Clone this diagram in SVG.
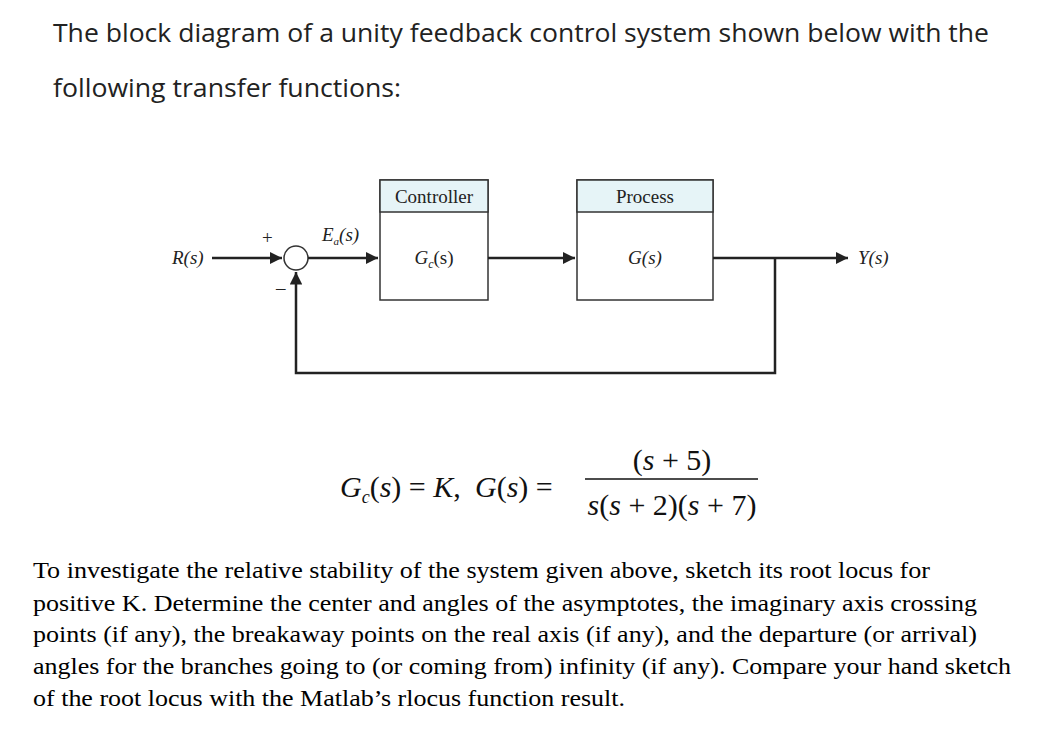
<svg xmlns="http://www.w3.org/2000/svg" width="1040" height="736" viewBox="0 0 1040 736">
<style>
.h{font-family:"Open Sans","Liberation Sans",sans-serif;font-size:25px;fill:#222}
.t{font-family:"Liberation Serif",serif;font-size:24px;fill:#000}
.b{font-family:"Liberation Serif",serif;font-size:19px;fill:#222}
.m{font-family:"Liberation Serif",serif;font-size:30px;fill:#111}
.ln{stroke:#222;stroke-width:2.5;fill:none}
.box{fill:#fff;stroke:#333;stroke-width:1.5}
.hd{fill:#e6f4f7;stroke:#333;stroke-width:1.5}
</style>
<defs><marker id="a" viewBox="0 0 10 10" refX="10" refY="5" markerWidth="5" markerHeight="5" orient="auto"><path d="M0,0L10,5L0,10z" fill="#222"/></marker></defs>
<rect width="1040" height="736" fill="#fff"/>
<text class="h" x="53" y="42" textLength="936" lengthAdjust="spacingAndGlyphs">The block diagram of a unity feedback control system shown below with the</text>
<text class="h" x="53" y="97" textLength="348" lengthAdjust="spacingAndGlyphs">following transfer functions:</text>
<g id="controller"><rect class="box" x="380" y="180" width="108" height="120"/><rect class="hd" x="380" y="180" width="108" height="32"/><text class="b" x="434" y="203" text-anchor="middle">Controller</text><text class="b" x="434" y="264" text-anchor="middle" font-style="italic">G<tspan font-size="12" dy="4">c</tspan><tspan dy="-4" font-style="normal">(s)</tspan></text></g>
<g id="process"><rect class="box" x="577" y="180" width="136" height="120"/><rect class="hd" x="577" y="180" width="136" height="32"/><text class="b" x="645" y="203" text-anchor="middle">Process</text><text class="b" x="645" y="264" text-anchor="middle" font-style="italic">G(s)</text></g>
<g id="sum"><circle cx="296" cy="258" r="12" fill="#fff" stroke="#333" stroke-width="1.5"/><text class="b" x="262" y="244" font-size="16">+</text><text class="b" x="276" y="294" font-size="14">–</text></g>
<g id="labels" font-style="italic"><text class="b" x="172" y="264" font-size="15" fill="#4a7a8a">R(s)</text><text class="b" x="322" y="241" font-size="16">E<tspan font-size="11" dy="4">a</tspan><tspan dy="-4">(s)</tspan></text><text class="b" x="858" y="264" font-size="14" fill="#555">Y(s)</text></g>
<g id="connectors">
<path class="ln" d="M212,258H282" marker-end="url(#a)"/>
<path class="ln" d="M308,258H378" marker-end="url(#a)"/>
<path class="ln" d="M488,258H575" marker-end="url(#a)"/>
<path class="ln" d="M713,258H848" marker-end="url(#a)"/>
<path class="ln" d="M775,258V373H296V272" marker-end="url(#a)"/>
</g>
<g id="formula">
<text class="m" x="340" y="497" font-style="italic">G<tspan font-size="18" dy="6">c</tspan><tspan dy="-6" font-style="normal">(</tspan>s<tspan font-style="normal">) = </tspan>K<tspan font-style="normal">,</tspan></text>
<text class="m" x="475" y="497"><tspan font-style="italic">G</tspan>(<tspan font-style="italic">s</tspan>) =</text>
<text class="m" x="672" y="470" text-anchor="middle">(<tspan font-style="italic">s</tspan> + 5)</text>
<line x1="585" y1="479" x2="758" y2="479" stroke="#111" stroke-width="1.5"/>
<text class="m" x="672" y="515" text-anchor="middle"><tspan font-style="italic">s</tspan>(<tspan font-style="italic">s</tspan> + 2)(<tspan font-style="italic">s</tspan> + 7)</text>
</g>
<text class="t" x="33" y="578" textLength="897" lengthAdjust="spacingAndGlyphs">To investigate the relative stability of the system given above, sketch its root locus for</text>
<text class="t" x="33" y="611" textLength="944" lengthAdjust="spacingAndGlyphs">positive K. Determine the center and angles of the asymptotes, the imaginary axis crossing</text>
<text class="t" x="33" y="642" textLength="944" lengthAdjust="spacingAndGlyphs">points (if any), the breakaway points on the real axis (if any), and the departure (or arrival)</text>
<text class="t" x="33" y="674" textLength="978" lengthAdjust="spacingAndGlyphs">angles for the branches going to (or coming from) infinity (if any). Compare your hand sketch</text>
<text class="t" x="33" y="706" textLength="592" lengthAdjust="spacingAndGlyphs">of the root locus with the Matlab’s rlocus function result.</text>
</svg>
